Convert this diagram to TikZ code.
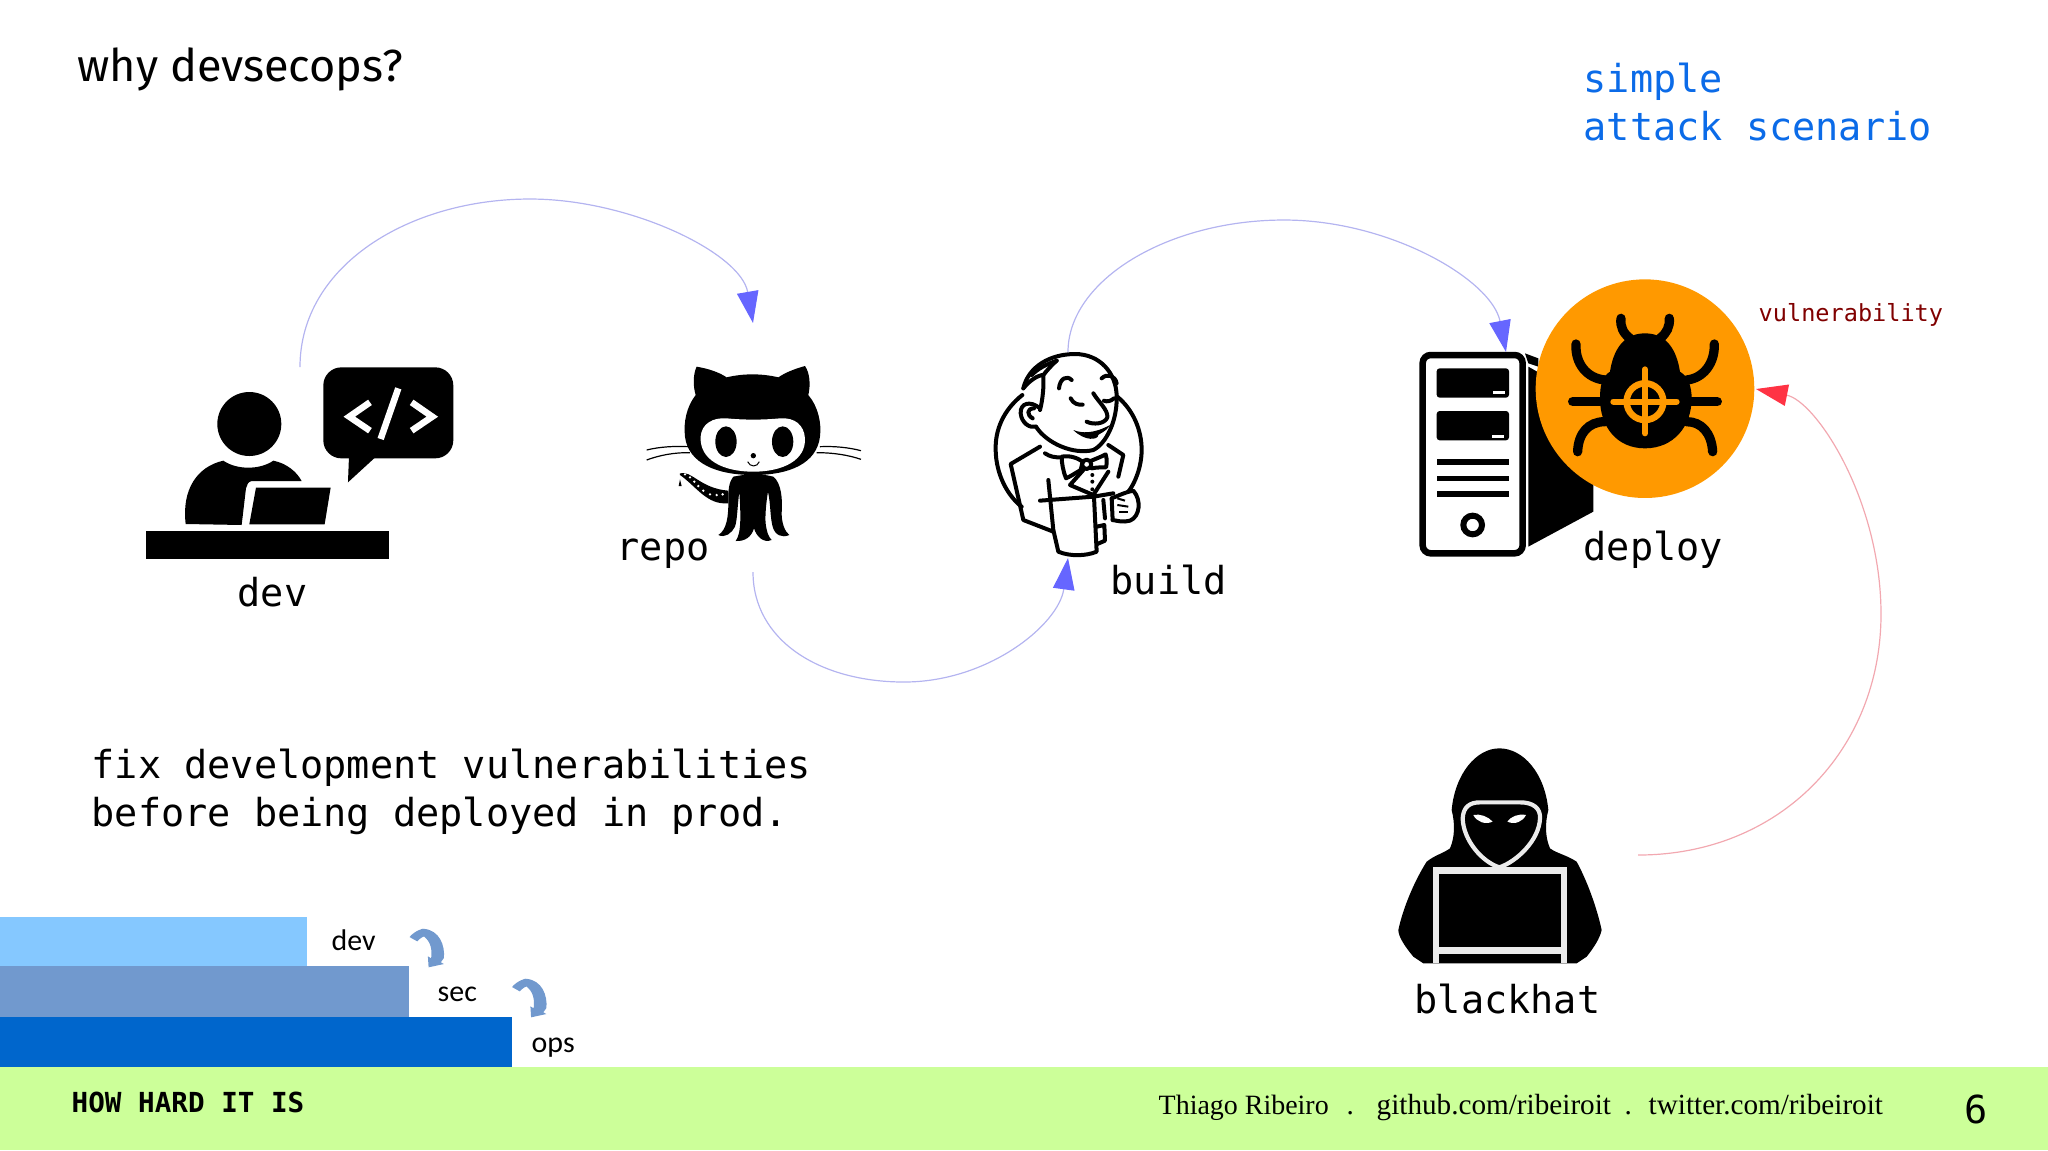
\documentclass[tikz,border=0pt]{standalone}
\usepackage{fontspec}
\usetikzlibrary{arrows.meta}
\newfontfamily\monofam{DejaVu Sans Mono}
\newfontfamily\titlefam{Fira Sans}
\newfontfamily\stackfam{Carlito}
\newfontfamily\footfam{Liberation Serif}
\definecolor{linkline}{HTML}{B4B4F0}
\definecolor{linktip}{HTML}{6666FF}
\definecolor{hitline}{HTML}{F2A8B0}
\definecolor{hittip}{HTML}{FF3344}
\definecolor{bugorange}{HTML}{FF9900}
\definecolor{stacklight}{HTML}{85C8FF}
\definecolor{stackmid}{HTML}{7199CE}
\definecolor{stackdark}{HTML}{0066CC}
\definecolor{footgreen}{HTML}{CCFF99}
\definecolor{noteblue}{HTML}{0B6BE8}
\definecolor{vulnred}{HTML}{800000}
\tikzset{
  txt/.style={anchor=base west,inner sep=0pt,align=left},
  lbl/.style={txt,font=\monofam\fontsize{10.96}{13.4}\selectfont},
  stacklbl/.style={txt,font=\stackfam\fontsize{8.5}{10}\selectfont},
  footlbl/.style={txt,font=\footfam\fontsize{8.3}{9}\selectfont},
  link/.style={draw=linkline,line width=.012cm,-{Triangle[length=.315cm,width=.215cm,color=linktip]}},
  hit/.style={draw=hitline,line width=.012cm,-{Triangle[length=.315cm,width=.215cm,color=hittip]}},
  jline/.style={line width=.04cm,line cap=round,line join=round},
  bugleg/.style={line width=.093cm,line cap=round},
  whisker/.style={line width=.012cm},
  turnarrow/.pic={
    \fill[stackmid] (0,0) .. controls (5.7,-6.7) and (13.4,-8.3) .. (13.4,-8.3)
      .. controls (30.6,-7.3) and (35.6,9.3) .. (34.4,21) -- (31.3,25.3) -- (34.4,27) -- (19.1,30.3)
      -- (18.4,19.3) -- (21.6,21.3) .. controls (23,12.7) and (21,4.3) .. (14.5,-0.5)
      .. controls (12,0) and (9,3) .. (7.7,4.3) -- cycle;
  }
}
\begin{document}
\begin{tikzpicture}[x=.01cm,y=-.01cm]
\useasboundingbox (0,0) rectangle (2048,1150);
% footer and stack
\fill[footgreen] (0,1067) rectangle (2048,1150);
\fill[stacklight] (0,917) rectangle (307,966);
\fill[stackmid] (0,966) rectangle (409,1017);
\fill[stackdark] (0,1017) rectangle (512,1067);
\pic at (409.5,937) {turnarrow};
\pic at (512,987) {turnarrow};
\node[stacklbl] (stackdev) at (331,950) {dev};
\node[stacklbl] (stacksec) at (437,1001) {sec};
\node[stacklbl] (stackops) at (531,1052) {ops};
\node[txt,font=\monofam\bfseries\fontsize{7.85}{9}\selectfont] (foothard) at (71,1112) {HOW HARD IT IS};
\node[footlbl,font=\footfam\fontsize{7.95}{9}\selectfont] (footname) at (1158,1114) {Thiago Ribeiro};
\node[footlbl] (footdota) at (1346,1114) {.};
\node[footlbl] (footgit) at (1376,1114) {github.com/ribeiroit};
\node[footlbl] (footdotb) at (1624,1114) {.};
\node[footlbl] (foottw) at (1648,1114) {twitter.com/ribeiroit};
\node[lbl] (footnum) at (1964,1123) {6};
% texts
\node[txt,font=\titlefam\fontsize{12.8}{15}\selectfont] (title) at (77,81) {why devsecops?};
\node[lbl,text=noteblue] (scenario) at (1583,140) {simple\\attack scenario};
\node[lbl] (fixnote) at (91,826) {fix development vulnerabilities\\before being deployed in prod.};
\node[txt,text=vulnred,font=\monofam\fontsize{6.7}{8}\selectfont] (vuln) at (1758,321) {vulnerability};
\node[lbl] (devlbl) at (237,606) {dev};
\node[lbl] (repolbl) at (616,560) {repo};
\node[lbl] (buildlbl) at (1110,594) {build};
\node[lbl] (deploylbl) at (1583,560) {deploy};
\node[lbl] (hatlbl) at (1414,1013) {blackhat};
% dev
\begin{scope}[shift={(120,340)},scale=.3333]
  \fill (388,252) circle (96);
  \fill (197,552) .. controls (185,450) and (230,380) .. (310,362) .. controls (350,390) and (420,390) .. (460,362)
    .. controls (500,370) and (530,395) .. (545,423) -- (395,423) .. controls (385,425) and (380,435) .. (378,445) -- (365,555) -- cycle;
  \fill (408,443) -- (632,443) -- (614,553) -- (388,553) -- cycle;
  \fill (78,574) rectangle (806,656);
  \fill[rounded corners=.18cm] (610,82) rectangle (1000,355);
  \fill (687,350) -- (684,427) -- (768,350) -- cycle;
  \draw[white,line width=.065cm,miter limit=10] (750,187) -- (688,230) -- (750,272);
  \draw[white,line width=.065cm] (835,145) -- (782,297);
  \draw[white,line width=.065cm,miter limit=10] (875,187) -- (937,230) -- (875,272);
\end{scope}
% repo
\begin{scope}[shift={(600,340)},scale=.3333]
  \fill (290,80) .. controls (320,85) and (355,95) .. (380,112) .. controls (430,100) and (485,100) .. (535,112)
    .. controls (560,95) and (590,85) .. (615,78) .. controls (630,100) and (632,135) .. (625,165)
    .. controls (655,200) and (665,250) .. (660,290) .. controls (650,370) and (570,405) .. (460,405)
    .. controls (350,405) and (265,370) .. (255,290) .. controls (250,245) and (260,200) .. (287,165)
    .. controls (278,135) and (280,100) .. (290,80) -- cycle;
  \fill[white] (302,290) .. controls (305,250) and (340,232) .. (380,235) .. controls (430,240) and (490,240) .. (540,235)
    .. controls (585,232) and (612,255) .. (615,295) .. controls (618,360) and (550,395) .. (460,395)
    .. controls (370,395) and (298,360) .. (302,290) -- cycle;
  \fill (378,305) ellipse (32 and 46);
  \fill (548,305) ellipse (32 and 46);
  \fill (460,347) circle (8);
  \draw[line width=.01cm] (443,365) .. controls (450,382) and (472,382) .. (478,365);
  \draw[whisker] (140,330) .. controls (180,320) and (225,318) .. (265,320);
  \draw[whisker] (140,360) .. controls (180,345) and (225,337) .. (270,338);
  \draw[whisker] (660,320) .. controls (700,318) and (745,322) .. (783,332);
  \draw[whisker] (650,338) .. controls (700,338) and (745,345) .. (783,358);
  \fill (400,410) .. controls (450,400) and (480,400) .. (520,410) .. controls (545,430) and (548,480) .. (545,520)
    .. controls (545,550) and (555,575) .. (568,585) .. controls (545,595) and (525,585) .. (518,560)
    .. controls (510,530) and (512,490) .. (504,455) .. controls (498,490) and (495,530) .. (497,550)
    .. controls (500,575) and (505,590) .. (515,600) .. controls (490,610) and (470,590) .. (462,565)
    .. controls (455,590) and (435,605) .. (407,603) .. controls (425,580) and (422,520) .. (418,455)
    .. controls (412,500) and (412,540) .. (405,560) .. controls (395,580) and (375,595) .. (355,585)
    .. controls (380,570) and (385,530) .. (385,490) .. controls (385,450) and (385,430) .. (400,410) -- cycle;
  \fill (240,400) .. controls (275,390) and (300,445) .. (385,452) -- (385,490)
    .. controls (320,495) and (290,440) .. (240,405) -- cycle;
  \foreach \dotx/\doty in {255/403,270/412,283/425,295/438,310/452,330/463,350/465,368/463}
    \fill[white] (\dotx,\doty) circle (4);
  \fill (240,418) -- (245,438) -- (236,438) -- cycle;
\end{scope}
% build
\begin{scope}[shift={(960,330)},scale=.3333]
  \draw[jline] (187,195) .. controls (130,240) and (105,300) .. (107,360) .. controls (108,430) and (140,495) .. (185,530);
  \draw[jline] (472,200) .. controls (520,240) and (545,300) .. (545,360) .. controls (545,410) and (525,460) .. (505,485);
  \draw[jline] (190,175) .. controls (205,110) and (270,72) .. (345,72) .. controls (420,72) and (470,130) .. (470,200)
    .. controls (472,270) and (440,340) .. (400,360) .. controls (340,375) and (260,340) .. (228,290);
  \draw[jline] (215,135) .. controls (235,115) and (255,105) .. (290,92);
  \draw[jline] (250,135) .. controls (262,120) and (275,105) .. (290,92);
  \draw[jline] (190,175) .. controls (210,150) and (235,135) .. (250,135) .. controls (252,170) and (248,210) .. (240,240);
  \draw[jline] (240,235) .. controls (210,210) and (180,220) .. (182,250) .. controls (185,280) and (210,295) .. (228,290);
  \draw[jline] (218,265) .. controls (200,255) and (200,235) .. (222,235);
  \draw[jline] (297,175) .. controls (300,145) and (320,135) .. (335,150);
  \draw[jline] (425,145) .. controls (440,130) and (465,135) .. (470,160);
  \draw[jline] (332,205) .. controls (340,222) and (355,225) .. (368,224);
  \draw[jline] (432,212) .. controls (440,216) and (452,214) .. (462,205);
  \draw[jline] (400,190) .. controls (415,215) and (445,240) .. (442,262) .. controls (435,282) and (400,285) .. (380,275);
  \fill (340,300) .. controls (365,310) and (400,312) .. (450,285) .. controls (440,305) and (415,312) .. (415,315)
    .. controls (415,330) and (375,335) .. (340,300) -- cycle;
  \draw[jline] (240,350) -- (152,402) -- (190,570) -- (280,605);
  \draw[jline] (445,345) -- (490,375) -- (475,440);
  \draw[jline] (255,370) .. controls (270,380) and (285,383) .. (305,382);
  \draw[jline] (305,380) .. controls (330,375) and (355,385) .. (368,395) -- (362,420) .. controls (345,430) and (330,440) .. (318,445)
    .. controls (310,425) and (305,400) .. (305,380) -- cycle;
  \draw[jline] (392,393) .. controls (410,385) and (425,380) .. (437,373) .. controls (442,390) and (440,405) .. (438,412) .. controls (425,412) and (410,412) .. (395,415);
  \draw[jline] (380,403) circle (14);
  \draw[jline] (370,420) -- (330,465) -- (400,495) -- (445,425);
  \foreach \doty in {435,455,478}
    \fill (397,\doty) circle (6);
  \draw[jline] (240,512) -- (400,500) -- (460,490);
  \draw[jline] (265,450) -- (280,600) -- (295,665) .. controls (330,680) and (380,678) .. (410,665) -- (402,500);
  \draw[jline] (410,590) -- (433,585) -- (435,632) -- (412,642);
  \draw[jline] (430,510) -- (435,565);
  \draw[jline] (455,505) -- (458,570);
  \draw[jline] (455,505) .. controls (480,495) and (500,485) .. (520,482) .. controls (545,510) and (540,560) .. (510,572) .. controls (490,578) and (470,572) .. (458,570);
  \draw[line width=.02cm] (472,505) -- (495,512);
  \draw[line width=.02cm] (472,525) -- (505,530);
  \draw[line width=.02cm] (478,545) -- (505,545);
\end{scope}
% deploy
\begin{scope}[shift={(1400,270)},scale=.3333]
  \fill (385,290) -- (580,400) -- (580,725) -- (385,830) -- cycle;
  \fill (375,250) -- (415,265) -- (415,290) -- (385,280) -- cycle;
  \draw[line width=.065cm,rounded corners=.08cm] (68,255) rectangle (368,850);
  \fill[rounded corners=.03cm] (110,295) rectangle (327,383);
  \fill[white] (278,363) rectangle (315,372);
  \fill[rounded corners=.03cm] (110,423) rectangle (327,511);
  \fill[white] (275,495) rectangle (312,503);
  \foreach \bary in {568,617,664}
    \fill (110,\bary) rectangle (327,\bary+17);
  \draw[line width=.06cm] (218,765) circle (28);
  \fill[bugorange] (735,356) circle (328);
  \fill (735,190) .. controls (670,190) and (640,240) .. (630,305) .. controls (605,320) and (600,350) .. (600,385)
    .. controls (600,470) and (650,535) .. (735,535) .. controls (820,535) and (875,470) .. (875,385)
    .. controls (875,350) and (865,320) .. (840,305) .. controls (830,240) and (800,190) .. (735,190) -- cycle;
  \draw[bugleg] (663,145) .. controls (660,170) and (670,190) .. (690,205);
  \draw[bugleg] (808,145) .. controls (810,170) and (800,190) .. (780,205);
  \draw[bugleg] (528,222) .. controls (525,280) and (560,325) .. (615,330);
  \draw[bugleg] (943,222) .. controls (945,280) and (910,325) .. (860,330);
  \draw[bugleg] (518,395) -- (600,395);
  \draw[bugleg] (952,395) -- (875,395);
  \draw[bugleg] (533,545) .. controls (535,490) and (565,455) .. (615,455);
  \draw[bugleg] (938,545) .. controls (935,490) and (905,455) .. (860,455);
  \draw[bugorange,line width=.065cm] (735,395) circle (55);
  \draw[bugorange,line width=.06cm,line cap=round] (640,395) -- (830,395);
  \draw[bugorange,line width=.06cm,line cap=round] (735,298) -- (735,490);
\end{scope}
% blackhat
\begin{scope}[shift={(1380,730)},scale=.3333]
  \fill (130,700) -- (100,680) .. controls (75,650) and (55,620) .. (55,600) .. controls (70,530) and (105,450) .. (140,395)
    .. controls (165,375) and (190,370) .. (210,355) .. controls (225,320) and (225,280) .. (215,240)
    .. controls (225,130) and (290,55) .. (358,55) .. controls (430,55) and (495,130) .. (505,240)
    .. controls (495,280) and (495,320) .. (510,355) .. controls (530,370) and (560,375) .. (590,395)
    .. controls (620,450) and (650,530) .. (665,600) .. controls (660,625) and (640,655) .. (620,680) -- (590,700) -- cycle;
  \filldraw[fill=black,draw=white!92!black,line width=.042cm] (248,265) .. controls (250,230) and (270,217) .. (300,217) -- (420,217)
    .. controls (460,217) and (482,235) .. (480,265) .. controls (478,330) and (410,395) .. (358,412)
    .. controls (305,395) and (250,330) .. (248,265) -- cycle;
  \fill[white] (280,255) .. controls (300,250) and (325,260) .. (338,275) .. controls (315,285) and (290,275) .. (280,255) -- cycle;
  \fill[white] (438,255) .. controls (415,250) and (392,260) .. (382,275) .. controls (405,285) and (428,275) .. (438,255) -- cycle;
  \fill[white!92!black] (160,412) rectangle (560,700);
  \fill (178,433) rectangle (542,650);
  \fill (178,672) rectangle (542,700);
\end{scope}
% attack path
\coordinate (devout) at (300,367);
\coordinate (devarc) at (530,199);
\coordinate (repoin) at (753,323);
\coordinate (repoout) at (753,572);
\coordinate (repoarc) at (904,682);
\coordinate (buildin) at (1068,558);
\coordinate (buildout) at (1068,352);
\coordinate (buildarc) at (1284,220);
\coordinate (deployin) at (1506,352);
\coordinate (hatout) at (1638,855);
\coordinate (hatarc) at (1881,614);
\coordinate (bugin) at (1756,389);
\draw[link] (devout) .. controls +(0,-102) and +(-120,0) .. (devarc) .. controls +(100,0) and +(-12,-70) .. (repoin);
\draw[link] (repoout) .. controls +(0,68) and +(-85,0) .. (repoarc) .. controls +(85,0) and +(-9,66) .. (buildin);
\draw[link] (buildout) .. controls +(0,-72) and +(-116,0) .. (buildarc) .. controls +(106,0) and +(-14,-72) .. (deployin);
\draw[hit] (hatout) .. controls +(142,0) and +(0,136) .. (hatarc) .. controls +(0,-114) and +(60,12) .. (bugin);
\end{tikzpicture}
\end{document}
